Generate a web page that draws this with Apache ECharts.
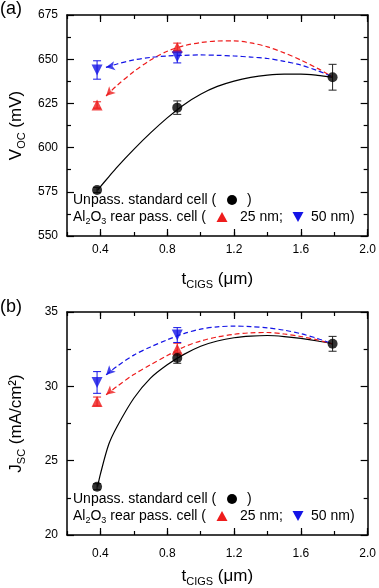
<!DOCTYPE html>
<html>
<head>
<meta charset="utf-8">
<script src="https://cdn.jsdelivr.net/npm/echarts@6/dist/echarts.min.js"></script>
<style>
html,body{margin:0;padding:0;background:#fff;}
#chart{width:379px;height:588px;}
</style>
</head>
<body>
<div id="chart"></div>
<script>
// ---------- data ----------
const xTickLabels = [0.4, 0.8, 1.2, 1.6, 2.0];
const thickStd = [0.38, 0.86, 1.79];
const thickPass = [0.38, 0.86];

// Panel (a): Voc (mV)
const vocTicks = [550, 575, 600, 625, 650, 675];
const vocStd = [576.0, 622.6, 639.8];
const vocStdErr = [1.5, 3.8, 7.3];
const voc25 = [624.1, 656.6];
const voc25Err = [1.8, 2.5];
const voc50 = [643.9, 651.4];
const voc50Err = [5.2, 3.5];
const vocStdFitX = [0.383, 0.45, 0.5, 0.6, 0.7, 0.8, 0.9, 1.0, 1.1, 1.2, 1.3, 1.4, 1.5, 1.6, 1.7, 1.79];
const vocStdFitY = [576, 583.5, 589, 599, 608.3, 616.8, 624.3, 630.2, 634.6, 637.6, 639.7, 641, 641.6, 641.6, 640.9, 639.8];
const voc25FitX = [0.434, 0.5, 0.6, 0.7, 0.8, 0.9, 1.0, 1.1, 1.2, 1.3, 1.4, 1.5, 1.6, 1.7, 1.79];
const voc25FitY = [629.2, 635.2, 643, 649.5, 654.5, 657.6, 659.4, 660.3, 660.4, 659.2, 657, 653.6, 649.5, 644.8, 640];
const voc50FitX = [0.433, 0.5, 0.6, 0.7, 0.8, 0.9, 1.0, 1.1, 1.2, 1.3, 1.4, 1.5, 1.6, 1.7, 1.79];
const voc50FitY = [645.4, 647.3, 649.6, 651, 651.8, 652.2, 652.4, 652.2, 651.8, 651.2, 650.4, 648.8, 646.7, 643.5, 640];

// Panel (b): Jsc (mA/cm2)
const jscTicks = [20, 25, 30, 35];
const jscStd = [23.25, 31.9, 32.86];
const jscStdErr = [0.2, 0.35, 0.5];
const jsc25 = [28.98, 32.5];
const jsc25Err = [0.3, 0.4];
const jsc50 = [30.26, 33.45];
const jsc50Err = [0.73, 0.5];
const jscStdFitX = [0.383, 0.4, 0.45, 0.5, 0.6, 0.7, 0.8, 0.9, 1.0, 1.1, 1.2, 1.3, 1.4, 1.5, 1.6, 1.7, 1.79];
const jscStdFitY = [23.25, 24.1, 26.1, 27.3, 29.2, 30.55, 31.45, 32.15, 32.7, 33.05, 33.27, 33.38, 33.42, 33.35, 33.22, 33.05, 32.86];
const jsc25FitX = [0.434, 0.5, 0.6, 0.7, 0.8, 0.9, 1.0, 1.1, 1.2, 1.3, 1.4, 1.5, 1.6, 1.7, 1.79];
const jsc25FitY = [29.43, 30.0, 30.8, 31.45, 32.07, 32.65, 33.05, 33.32, 33.5, 33.6, 33.62, 33.52, 33.35, 33.12, 32.86];
const jsc50FitX = [0.434, 0.5, 0.6, 0.7, 0.8, 0.9, 1.0, 1.1, 1.2, 1.3, 1.4, 1.5, 1.6, 1.7, 1.79];
const jsc50FitY = [30.77, 31.35, 32.1, 32.65, 33.13, 33.55, 33.85, 34.0, 34.05, 34.02, 33.93, 33.78, 33.54, 33.22, 32.86];

// legend texts
const legStdText = 'Unpass. standard cell (';
const legPassText = '{n|Al}{s|2}{n|O}{s|3}{n| rear pass. cell (}';
const leg25Text = '25 nm;';
const leg50Text = '50 nm)';

// ---------- styles ----------
const FONT = '"Liberation Sans", Arial, sans-serif';
const RED = '#ee1c1c';
const BLUE = '#1414e6';
const BLACK = '#000';

const zip = (xs, ys) => xs.map((x, i) => [x, ys[i]]);
const zip3 = (xs, ys, es) => xs.map((x, i) => [x, ys[i], es[i]]);

const nameRich = {
  m: {fontSize: 17, fontFamily: FONT, color: BLACK, verticalAlign: 'top'},
  s: {fontSize: 11, fontFamily: FONT, color: BLACK, verticalAlign: 'top', padding: [8, 0, 0, 0]}
};

function xAxes(g, labelMargin, nameGap) {
  const base = {
    gridIndex: g, type: 'value', min: 0.2, max: 2.0, interval: 0.2,
    splitLine: {show: false}
  };
  return [
    Object.assign({}, base, {
      position: 'bottom',
      axisLine: {show: true, lineStyle: {color: BLACK, width: 1.5}},
      axisTick: {show: true, inside: true, length: 4, lineStyle: {color: BLACK, width: 1.2}},
      axisLabel: {customValues: xTickLabels, margin: labelMargin, fontSize: 12, fontFamily: FONT, color: BLACK,
        formatter: v => v.toFixed(1)},
      name: '{m|t}{s|CIGS}{m| (μm)}', nameLocation: 'middle', nameGap: nameGap,
      nameTextStyle: {rich: nameRich}
    }),
    Object.assign({}, base, {
      position: 'bottom',
      axisLine: {show: false},
      axisTick: {show: true, inside: true, length: 7, customValues: xTickLabels, lineStyle: {color: BLACK, width: 1.2}},
      axisLabel: {show: false}
    }),
    Object.assign({}, base, {
      position: 'top',
      axisLine: {show: true, lineStyle: {color: BLACK, width: 1.5}},
      axisTick: {show: true, inside: true, length: 4, lineStyle: {color: BLACK, width: 1.2}},
      axisLabel: {show: false}
    }),
    Object.assign({}, base, {
      position: 'top',
      axisLine: {show: false},
      axisTick: {show: true, inside: true, length: 7, customValues: xTickLabels, lineStyle: {color: BLACK, width: 1.2}},
      axisLabel: {show: false}
    })
  ];
}

function yAxes(g, ticks, name, nameGap) {
  const base = {
    gridIndex: g, type: 'value', min: ticks[0], max: ticks[ticks.length - 1],
    interval: ticks[1] - ticks[0], splitLine: {show: false},
    axisLine: {show: true, lineStyle: {color: BLACK, width: 1.5}},
    axisTick: {show: true, inside: true, length: 7, lineStyle: {color: BLACK, width: 1.2}},
    minorTick: {show: true, splitNumber: 2, length: 4, lineStyle: {color: BLACK, width: 1.2}},
    minorSplitLine: {show: false}
  };
  return [
    Object.assign({}, base, {
      position: 'left',
      axisLabel: {margin: 9, fontSize: 12, fontFamily: FONT, color: BLACK},
      name: name, nameLocation: 'middle', nameGap: nameGap,
      nameTextStyle: {rich: nameRich}
    }),
    Object.assign({}, base, {position: 'right', axisLabel: {show: false}})
  ];
}

function errSeries(xi, yi, data, color) {
  return {
    type: 'custom', xAxisIndex: xi, yAxisIndex: yi, z: 3,
    data: data,
    renderItem: function (params, api) {
      const x = api.value(0), y = api.value(1), e = api.value(2);
      const t = api.coord([x, y + e]);
      const b = api.coord([x, y - e]);
      const w = 4;
      const st = {stroke: color, lineWidth: 1};
      return {type: 'group', children: [
        {type: 'line', shape: {x1: t[0], y1: t[1], x2: b[0], y2: b[1]}, style: st},
        {type: 'line', shape: {x1: t[0] - w, y1: t[1], x2: t[0] + w, y2: t[1]}, style: st},
        {type: 'line', shape: {x1: b[0] - w, y1: b[1], x2: b[0] + w, y2: b[1]}, style: st}
      ]};
    }
  };
}

function fitSeries(xi, yi, data, color, dashed) {
  return {
    type: 'line', xAxisIndex: xi, yAxisIndex: yi, data: data, smooth: 0.3,
    showSymbol: false, symbol: 'none', z: 2, silent: true,
    lineStyle: {color: color, width: 1.2, type: dashed ? [5, 3] : 'solid'}
  };
}

function arrowSeries(xi, yi, point, color, rot) {
  return {
    type: 'scatter', xAxisIndex: xi, yAxisIndex: yi, data: [point],
    symbol: 'arrow', symbolSize: [7, 9], symbolRotate: rot, z: 4,
    itemStyle: {color: color}
  };
}

function markerSeries(xi, yi, data, color, sym, rot, size) {
  return {
    type: 'scatter', xAxisIndex: xi, yAxisIndex: yi, data: data,
    symbol: sym, symbolRotate: rot, symbolSize: size, z: 5,
    itemStyle: {color: color}
  };
}

function panelSeries(xi, yi, std, stdErr, p25, p25Err, p50, p50Err, fs, f25, f50, rot25, rot50) {
  return [
    fitSeries(xi, yi, fs, BLACK, false),
    fitSeries(xi, yi, f25, RED, true),
    fitSeries(xi, yi, f50, BLUE, true),
    errSeries(xi, yi, zip3(thickPass, p25, p25Err), RED),
    errSeries(xi, yi, zip3(thickPass, p50, p50Err), BLUE),
    errSeries(xi, yi, zip3(thickStd, std, stdErr), '#222'),
    arrowSeries(xi, yi, f25[0], RED, rot25),
    arrowSeries(xi, yi, f50[0], BLUE, rot50),
    markerSeries(xi, yi, zip(thickPass, p25), RED, 'triangle', 0, 11),
    markerSeries(xi, yi, zip(thickPass, p50), BLUE, 'triangle', 180, 11),
    markerSeries(xi, yi, zip(thickStd, std), BLACK, 'circle', 0, 10)
  ];
}

const LEG_FS = 14;
const legRich = {
  n: {fontSize: LEG_FS, fontFamily: FONT, fill: BLACK, verticalAlign: 'top'},
  s: {fontSize: 9, fontFamily: FONT, fill: BLACK, verticalAlign: 'top', padding: [7, 0, 0, 0]}
};
function legText(x, yc, text, rich) {
  return {type: 'text', x: x, y: yc, z: 10,
    style: {text: text, rich: rich ? legRich : undefined, fontSize: LEG_FS, fontFamily: FONT,
      fill: BLACK, verticalAlign: 'middle', align: 'left'}};
}
function triangle(cx, cy, down, color) {
  const h = 10, w = 11;
  const pts = down
    ? [[cx - w / 2, cy - h / 2], [cx + w / 2, cy - h / 2], [cx, cy + h / 2]]
    : [[cx - w / 2, cy + h / 2], [cx + w / 2, cy + h / 2], [cx, cy - h / 2]];
  return {type: 'polygon', z: 10, shape: {points: pts}, style: {fill: color}};
}
function legend(y1, y2) {
  return [
    legText(73, y1, legStdText, false),
    {type: 'circle', z: 10, shape: {cx: 232, cy: y1, r: 5}, style: {fill: BLACK}},
    legText(247, y1, ')', false),
    legText(73, y2 + 1, legPassText, true),
    triangle(222, y2, false, RED),
    legText(240, y2, leg25Text, false),
    triangle(298, y2, true, BLUE),
    legText(311, y2, leg50Text, false)
  ];
}

const chart = echarts.init(document.getElementById('chart'), null, {renderer: 'canvas'});
chart.setOption({
  backgroundColor: '#fff',
  animation: false,
  grid: [
    {left: 61, top: 15, width: 308, height: 221},
    {left: 61, top: 312, width: 308, height: 223}
  ],
  xAxis: [].concat(xAxes(0, 8, 35), xAxes(1, 13, 33)),
  yAxis: [].concat(
    yAxes(0, vocTicks, '{m|V}{s|OC}{m| (mV)}', 40),
    yAxes(1, jscTicks, '{m|J}{s|SC}{m| (mA/cm²)}', 40)
  ),
  series: [].concat(
    panelSeries(0, 0, vocStd, vocStdErr, voc25, voc25Err, voc50, voc50Err,
      zip(vocStdFitX, vocStdFitY), zip(voc25FitX, voc25FitY), zip(voc50FitX, voc50FitY), 135, 100),
    panelSeries(4, 2, jscStd, jscStdErr, jsc25, jsc25Err, jsc50, jsc50Err,
      zip(jscStdFitX, jscStdFitY), zip(jsc25FitX, jsc25FitY), zip(jsc50FitX, jsc50FitY), 130, 135)
  ),
  graphic: [
    {type: 'text', left: 0, top: 0, style: {text: '(a)', fontSize: 18, fontFamily: FONT, fill: BLACK}},
    {type: 'text', left: 0, top: 298, style: {text: '(b)', fontSize: 18, fontFamily: FONT, fill: BLACK}}
  ].concat(legend(200, 217), legend(499, 516))
});
</script>
</body>
</html>
